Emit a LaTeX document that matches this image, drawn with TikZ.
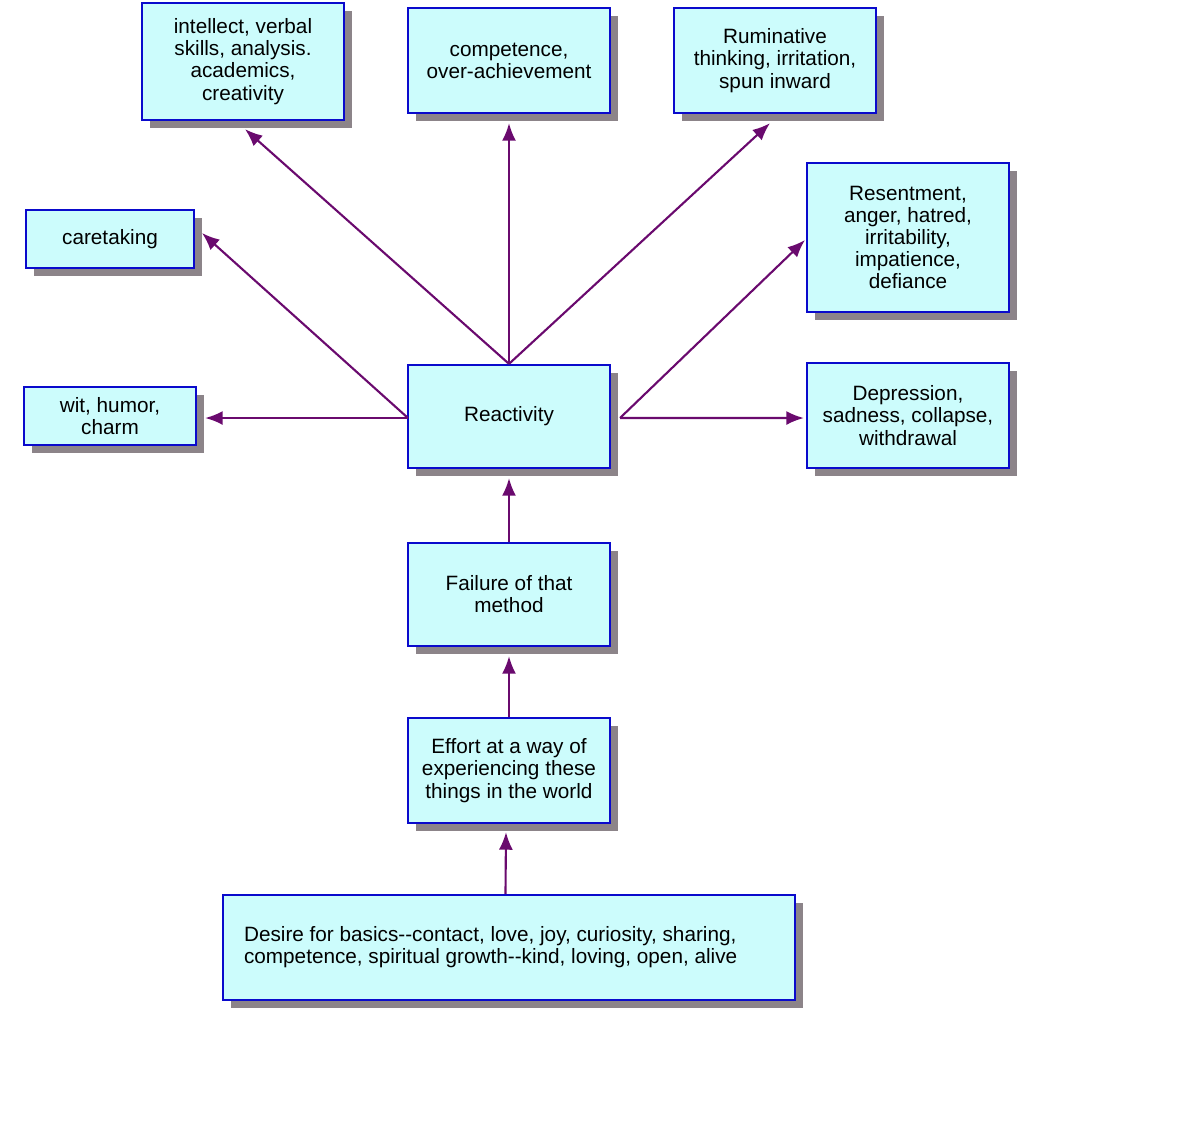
\documentclass[tikz,border=0pt]{standalone}
\usepackage{fontspec}
\setmainfont{Liberation Sans}
\usetikzlibrary{arrows.meta,shadows}
\definecolor{boxfill}{HTML}{CCFCFC}
\definecolor{boxline}{HTML}{0A0ACC}
\definecolor{arr}{HTML}{6A0A6E}
\definecolor{shad}{HTML}{8C8489}
\newcommand\rtxt[2]{\raisebox{#1}{\parbox{3.9cm}{\centering #2}}}
\begin{document}
\begin{tikzpicture}[x=0.02cm,y=-0.02cm,
  box/.style={draw=boxline,fill=boxfill,line width=1.3pt,align=center,inner sep=0pt,
    font=\fontsize{11.8}{12.6}\selectfont,
    drop shadow={shadow xshift=0.16cm,shadow yshift=-0.16cm,fill=shad,opacity=1}},
  con/.style={draw=arr,line width=1.2pt,-{Latex[length=10pt,width=8pt]}}]
\useasboundingbox (0,0) rectangle (1200,1134);
\node[box,minimum width=4.04cm,minimum height=2.34cm] (in) at (243,61.5) {\rtxt{2pt}{intellect, verbal\\skills, analysis.\\academics,\\creativity}};
\node[box,minimum width=4.04cm,minimum height=2.1cm] (co) at (509,60.5) {\rtxt{3pt}{competence,\\over-achievement}};
\node[box,minimum width=4.04cm,minimum height=2.1cm] (ru) at (775,60.5) {\rtxt{3pt}{Ruminative\\thinking, irritation,\\spun inward}};
\node[box,minimum width=3.36cm,minimum height=1.16cm] (ca) at (110,239) {caretaking};
\node[box,minimum width=4.04cm,minimum height=2.98cm] (rs) at (908,237.5) {\rtxt{3pt}{Resentment,\\anger, hatred,\\irritability,\\impatience,\\defiance}};
\node[box,minimum width=3.44cm,minimum height=1.16cm] (wi) at (110,416) {wit, humor,\\charm};
\node[box,minimum width=4.04cm,minimum height=2.06cm] (re) at (509,416.5) {Reactivity};
\node[box,minimum width=4.04cm,minimum height=2.1cm] (de) at (908,415.5) {\rtxt{3pt}{Depression,\\sadness, collapse,\\withdrawal}};
\node[box,minimum width=4.04cm,minimum height=2.06cm] (fa) at (509,594.5) {\rtxt{4pt}{Failure of that\\method}};
\node[box,minimum width=4.04cm,minimum height=2.1cm] (ef) at (509,770.5) {\rtxt{3pt}{Effort at a way of\\experiencing these\\things in the world}};
\node[box,minimum width=11.44cm,minimum height=2.1cm] (ds) at (509,947.5) {\hspace*{-0.6cm}\parbox{10cm}{Desire for basics-{}-contact, love, joy, curiosity, sharing,\\competence, spiritual growth-{}-kind, loving, open, alive}};
\coordinate (rl) at (408,418);
\coordinate (rr) at (620,418);
\draw[con] (re.north) -- ([shift={(2,8)}]in.south);
\draw[con] (re.north) -- ([shift={(0,9)}]co.south);
\draw[con] (re.north) -- ([shift={(-5,9)}]ru.south);
\draw[con] (rl) -- (202,233) coordinate (caend);
\draw[con] (rl) -- ([shift={(8,2)}]wi.east);
\draw[con] (rr) -- (805,240);
\draw[con] (rr) -- ([shift={(-2,2.5)}]de.west);
\draw[con] (fa.north) -- ([shift={(0,9)}]re.south);
\draw[con] (ef.north) -- ([shift={(0,9)}]fa.south);
\draw[con] ([xshift=-2]ds.north) -- ([shift={(-3,8)}]ef.south);
\end{tikzpicture}
\end{document}
